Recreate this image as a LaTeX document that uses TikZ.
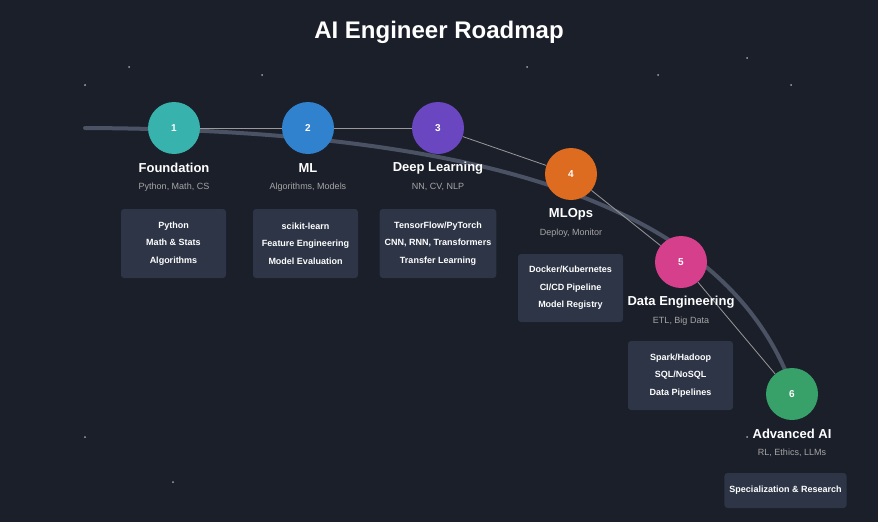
\documentclass[tikz,border=0pt]{standalone}
\usepackage{fontspec}
\setmainfont{Liberation Sans}
\begin{document}
\begin{tikzpicture}[x=1pt,y=-1pt,
  stepc/.style={circle,minimum size=52pt,inner sep=0pt,text=white,font=\fontsize{10}{12}\selectfont\bfseries},
  ttl/.style={text=white,font=\fontsize{13}{15}\selectfont\bfseries},
  sub/.style={text=gray!70,font=\fontsize{9}{11}\selectfont},
  box/.style={fill=boxc,rounded corners=3pt,text=white,align=center,font=\fontsize{9}{17.5}\selectfont\bfseries,inner sep=5pt},
  link/.style={draw=gray!80,line width=0.8pt},
  star/.style={circle,fill=white,inner sep=0pt,minimum size=2pt,opacity=0.6}]
\definecolor{bg}{HTML}{1B1F2A}
\definecolor{boxc}{HTML}{2D3546}
\definecolor{pathc}{HTML}{4A5264}
\definecolor{c1}{RGB}{56,178,172}
\definecolor{c2}{RGB}{49,130,206}
\definecolor{c3}{RGB}{107,70,193}
\definecolor{c4}{RGB}{221,107,32}
\definecolor{c5}{RGB}{213,63,140}
\definecolor{c6}{RGB}{56,161,105}
\fill[bg] (0,0) rectangle (878,522);
\node[text=white,font=\fontsize{24}{28}\selectfont\bfseries] (title) at (439,32) {AI Engineer Roadmap};
\foreach \i/\x/\y in {a/85/85,b/129/67,c/262/75,d/527/67,e/658/75,f/747/58,g/791/85,h/85/437,i/173/482,j/747/437,k/835/482}
  \node[star] (s\i) at (\x,\y) {};
\draw[pathc,line width=4pt,line cap=round] (85,128) .. controls (520,130) and (720,220) .. (786,372);
\node[stepc,fill=c1] (n1) at (174,128) {1};
\node[stepc,fill=c2] (n2) at (308,128) {2};
\node[stepc,fill=c3] (n3) at (438,128) {3};
\node[stepc,fill=c4] (n4) at (571,174) {4};
\node[stepc,fill=c5] (n5) at (681,262) {5};
\node[stepc,fill=c6] (n6) at (792,394) {6};
\draw[link] (n1) -- (n2); \draw[link] (n2) -- (n3); \draw[link] (n3) -- (n4);
\draw[link] (n4) -- (n5); \draw[link] (n5) -- (n6);
\foreach \n/\t/\s in {n1/Foundation/{Python, Math, CS},n2/ML/{Algorithms, Models},n3/Deep Learning/{NN, CV, NLP},n4/MLOps/{Deploy, Monitor},n5/Data Engineering/{ETL, Big Data},n6/Advanced AI/{RL, Ethics, LLMs}}{
  \node[ttl] (\n t) at ([yshift=-40pt]\n.center) {\t};
  \node[sub] (\n s) at ([yshift=-59pt]\n.center) {\s};
}
\node[box,minimum width=105pt,minimum height=69pt] (b1) at (173.5,243.5) {Python\\Math \& Stats\\Algorithms};
\node[box,minimum width=105pt,minimum height=69pt] (b2) at (305.5,243.5) {scikit-learn\\Feature Engineering\\Model Evaluation};
\node[box,minimum width=104pt,minimum height=69pt] (b3) at (438,243.5) {TensorFlow/PyTorch\\CNN, RNN, Transformers\\Transfer Learning};
\node[box,minimum width=105pt,minimum height=68pt] (b4) at (570.5,288) {Docker/Kubernetes\\CI/CD Pipeline\\Model Registry};
\node[box,minimum width=105pt,minimum height=69pt] (b5) at (680.5,375.5) {Spark/Hadoop\\SQL/NoSQL\\Data Pipelines};
\node[box,minimum width=117pt,minimum height=35pt] (b6) at (785.5,490.5) {Specialization \& Research};
\end{tikzpicture}
\end{document}
